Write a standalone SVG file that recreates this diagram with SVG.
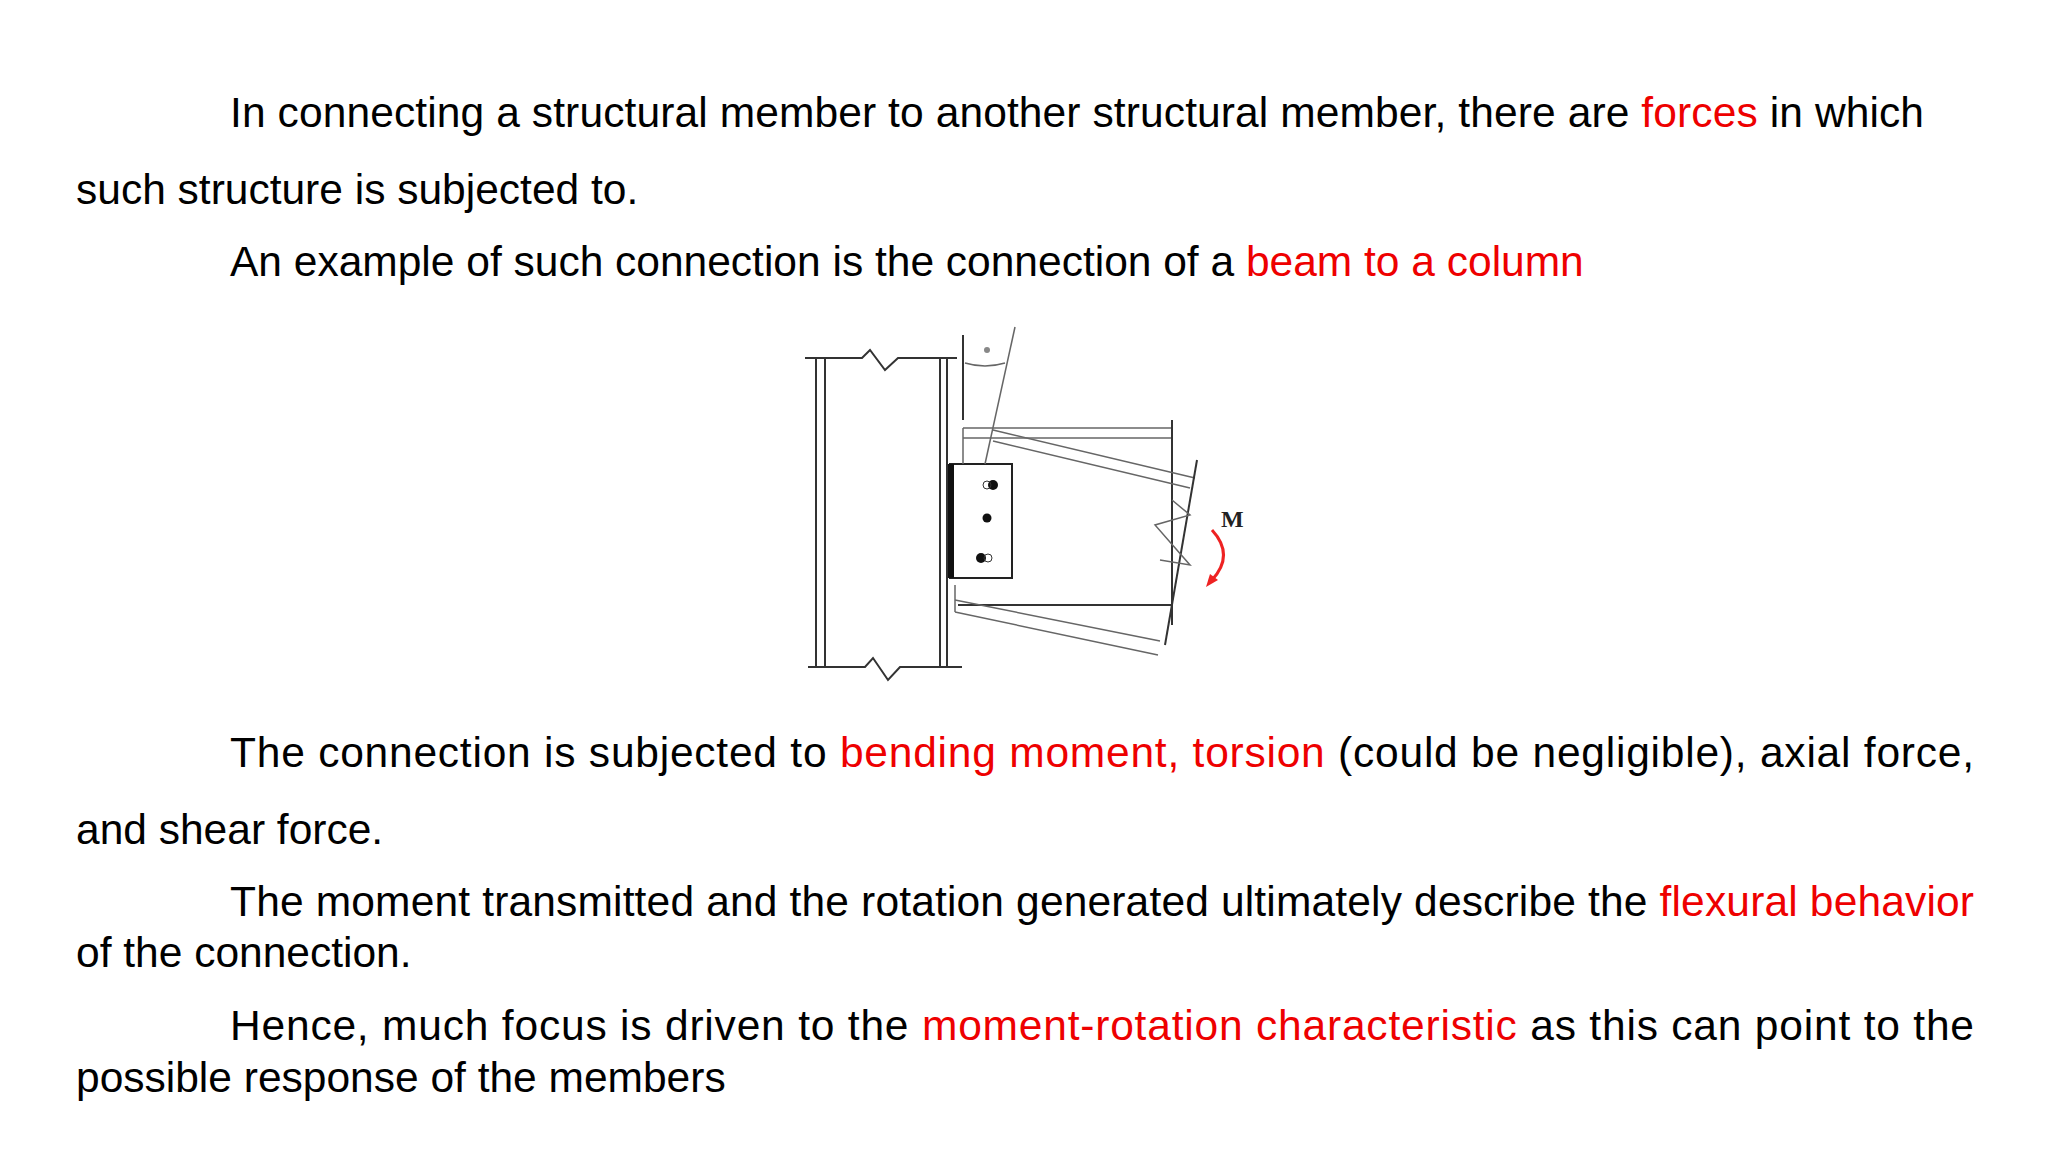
<svg xmlns="http://www.w3.org/2000/svg" width="2048" height="1152" viewBox="0 0 2048 1152">
<style>
text{font-family:"Liberation Sans",Arial,sans-serif;font-size:42.5px;fill:#000}
.r{fill:#e00}
.l{stroke:#333;stroke-width:2;fill:none}
.d{stroke:#666;stroke-width:1.5;fill:none}
</style>
<rect width="2048" height="1152" fill="#fff"/>
<g id="text">
<text x="230" y="127" textLength="1694" lengthAdjust="spacing">In connecting a structural member to another structural member, there are <tspan class="r">forces</tspan> in which</text>
<text x="76" y="204">such structure is subjected to.</text>
<text x="230" y="276">An example of such connection is the connection of a <tspan class="r">beam to a column</tspan></text>
<text x="230" y="767" textLength="1744" lengthAdjust="spacing">The connection is subjected to <tspan class="r">bending moment, torsion</tspan> (could be negligible), axial force,</text>
<text x="76" y="844">and shear force.</text>
<text x="230" y="916" textLength="1744" lengthAdjust="spacing">The moment transmitted and the rotation generated ultimately describe the <tspan class="r">flexural behavior</tspan></text>
<text x="76" y="967">of the connection.</text>
<text x="230" y="1040" textLength="1744" lengthAdjust="spacing">Hence, much focus is driven to the <tspan class="r">moment-rotation characteristic</tspan> as this can point to the</text>
<text x="76" y="1092">possible response of the members</text>
</g>
<g id="column">
<polyline class="l" points="805,358 862,358 870,350 885,370 898,358 957,358"/>
<polyline class="l" points="808,667 865,667 873,658 888,680 900,667 962,667"/>
<line class="l" x1="816" y1="358" x2="816" y2="667"/>
<line class="l" x1="825" y1="358" x2="825" y2="667"/>
<line class="l" x1="940" y1="358" x2="940" y2="667"/>
<line class="l" x1="947" y1="358" x2="947" y2="667"/>
</g>
<g id="plate">
<rect x="950" y="464" width="62" height="114" fill="#fff" stroke="#222" stroke-width="2"/>
<rect x="948" y="464" width="6" height="114" fill="#111"/>
<circle cx="993" cy="485" r="5" fill="#111"/><circle cx="987" cy="485" r="4" fill="none" stroke="#333"/>
<circle cx="987" cy="518" r="4.5" fill="#111"/>
<circle cx="981" cy="558" r="5" fill="#111"/><circle cx="988" cy="558" r="4" fill="none" stroke="#333"/>
</g>
<g id="beam">
<line class="l" x1="963" y1="335" x2="963" y2="420"/>
<line class="d" x1="1015" y1="327" x2="985" y2="464"/>
<path class="d" d="M965,363 Q985,369 1005,363"/>
<circle cx="987" cy="350" r="3" fill="#888"/>
<line class="d" x1="963" y1="428" x2="1172" y2="428"/>
<line class="d" x1="963" y1="438" x2="1172" y2="438"/>
<line class="d" x1="963" y1="428" x2="963" y2="464"/>
<line class="l" x1="1172" y1="420" x2="1172" y2="625"/>
<line class="d" x1="993" y1="430" x2="1195" y2="478"/>
<line class="d" x1="993" y1="441" x2="1190" y2="488"/>
<line class="l" x1="1197" y1="460" x2="1165" y2="645"/>
<line class="l" x1="958" y1="605" x2="1172" y2="605"/>
<line class="d" x1="955" y1="600" x2="1160" y2="641"/>
<line class="d" x1="955" y1="612" x2="1158" y2="655"/>
<line class="d" x1="955" y1="585" x2="955" y2="612"/>
<polyline class="d" points="1172,500 1190,515 1155,525 1190,565 1160,560"/>
</g>
<g id="moment">
<text x="1221" y="527" style="font-family:'Liberation Serif',serif;font-weight:bold;font-size:24px;fill:#222">M</text>
<path d="M1212,530 Q1235,555 1212,580" stroke="#e22" stroke-width="3" fill="none"/>
<polygon points="1206,587 1210,574 1218,580" fill="#e22"/>
</g>
</svg>
